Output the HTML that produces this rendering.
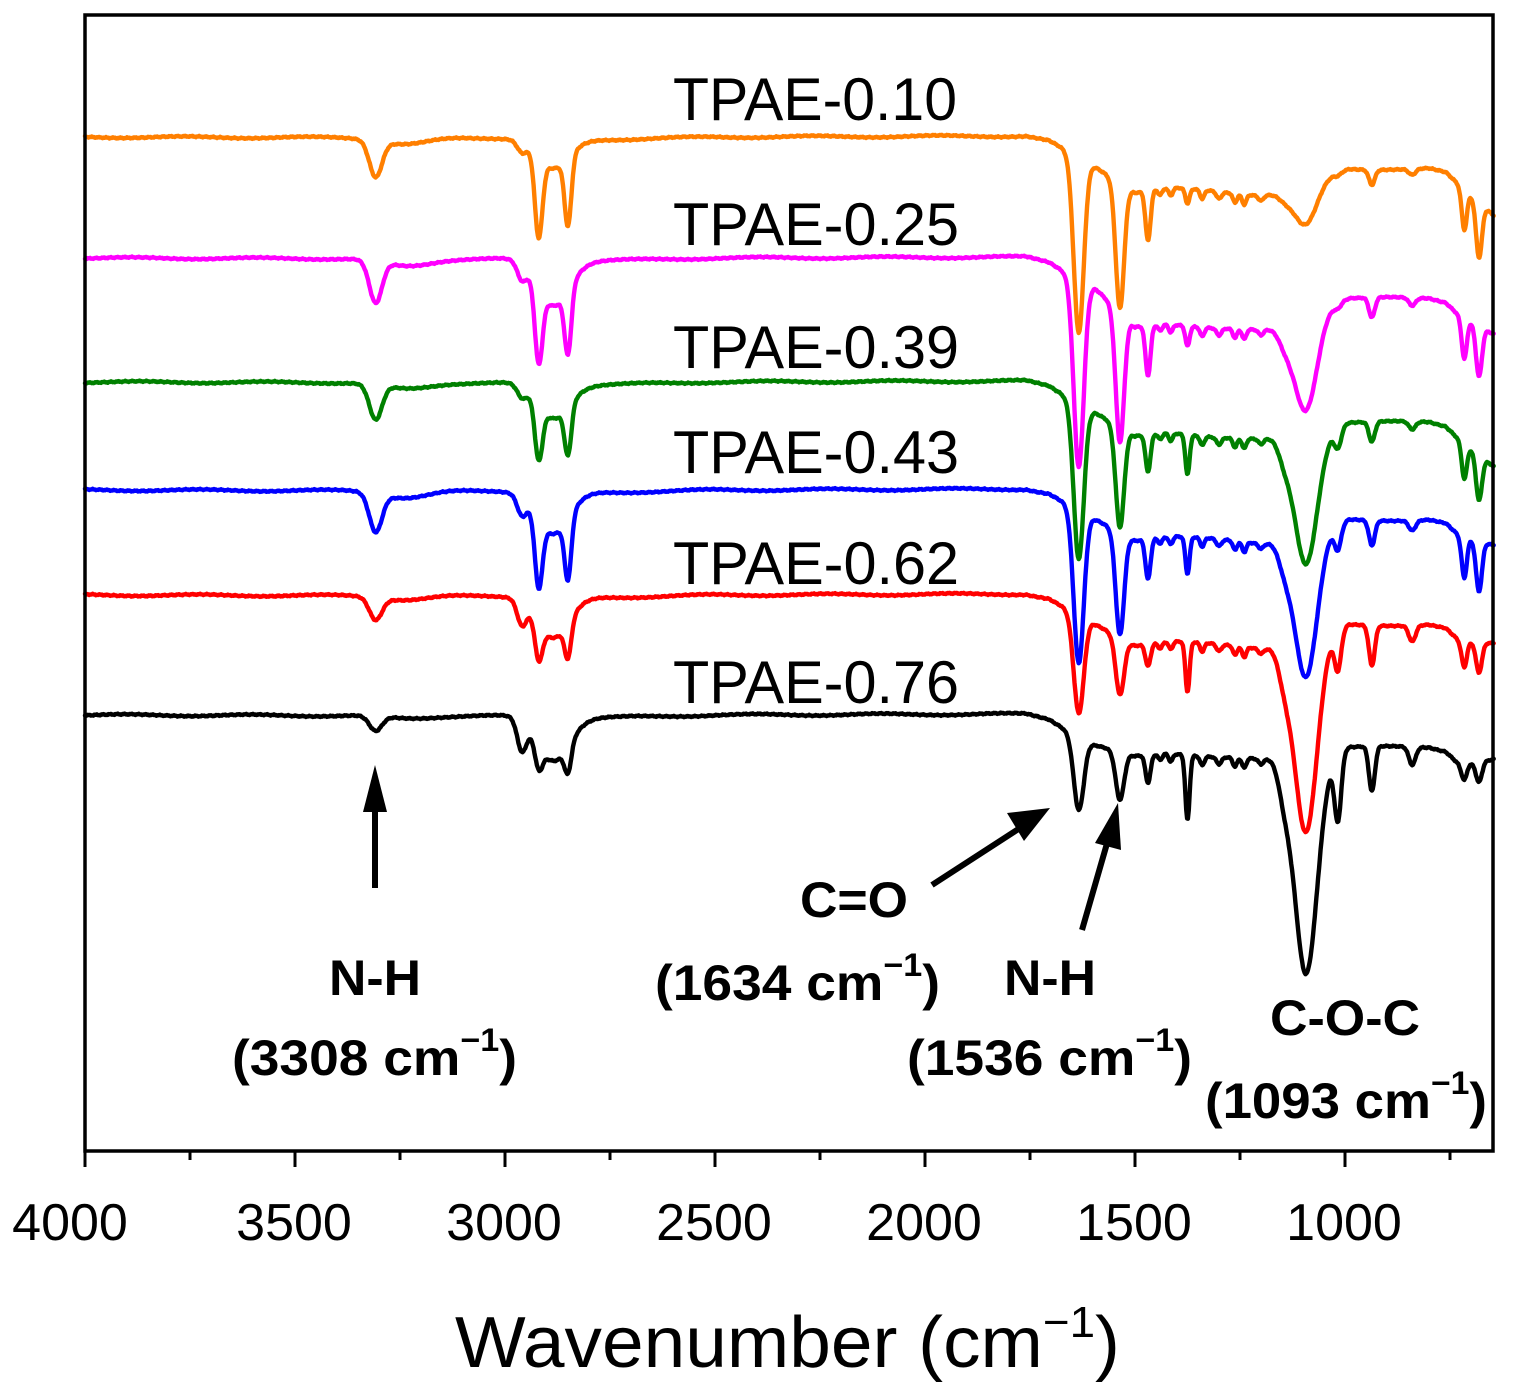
<!DOCTYPE html>
<html><head><meta charset="utf-8"><style>
html,body{margin:0;padding:0;background:#fff;}
svg{display:block;}
text{font-family:"Liberation Sans",Arial,sans-serif;fill:#000;}
</style></head><body>
<svg id="s" width="1519" height="1397" viewBox="0 0 1519 1397" xmlns="http://www.w3.org/2000/svg">
<rect x="0" y="0" width="1519" height="1397" fill="#fff"/>
<g id="curves" fill="none" stroke-width="4.4" stroke-linejoin="round" stroke-linecap="round"></g>
<rect x="85" y="15" width="1408" height="1136" fill="none" stroke="#000" stroke-width="3.5"/>
<g id="ticks" stroke="#000" stroke-width="3"></g>
<g font-size="60">
<text x="673" y="120" textLength="284" lengthAdjust="spacingAndGlyphs">TPAE-0.10</text>
<text x="673" y="245" textLength="286" lengthAdjust="spacingAndGlyphs">TPAE-0.25</text>
<text x="673" y="368" textLength="286" lengthAdjust="spacingAndGlyphs">TPAE-0.39</text>
<text x="673" y="473" textLength="286" lengthAdjust="spacingAndGlyphs">TPAE-0.43</text>
<text x="673" y="584" textLength="286" lengthAdjust="spacingAndGlyphs">TPAE-0.62</text>
<text x="673" y="703" textLength="286" lengthAdjust="spacingAndGlyphs">TPAE-0.76</text>
</g>
<g font-size="52" text-anchor="middle">
<text x="70" y="1240">4000</text>
<text x="294" y="1240">3500</text>
<text x="504" y="1240">3000</text>
<text x="714" y="1240">2500</text>
<text x="924" y="1240">2000</text>
<text x="1134" y="1240">1500</text>
<text x="1344" y="1240">1000</text>
</g>
<text x="455" y="1367" font-size="72" textLength="665" lengthAdjust="spacingAndGlyphs">Wavenumber (cm<tspan font-size="44" dy="-30">−1</tspan><tspan dy="30">)</tspan></text>
<g font-size="50" font-weight="bold">
<text x="329" y="995" textLength="92" lengthAdjust="spacingAndGlyphs">N-H</text>
<text x="232" y="1075" textLength="285" lengthAdjust="spacingAndGlyphs">(3308 cm<tspan font-size="32" dy="-24">−1</tspan><tspan dy="24">)</tspan></text>
<text x="800" y="917" textLength="108" lengthAdjust="spacingAndGlyphs">C=O</text>
<text x="655" y="1000" textLength="285" lengthAdjust="spacingAndGlyphs">(1634 cm<tspan font-size="32" dy="-24">−1</tspan><tspan dy="24">)</tspan></text>
<text x="1004" y="995" textLength="92" lengthAdjust="spacingAndGlyphs">N-H</text>
<text x="907" y="1075" textLength="285" lengthAdjust="spacingAndGlyphs">(1536 cm<tspan font-size="32" dy="-24">−1</tspan><tspan dy="24">)</tspan></text>
<text x="1270" y="1035" textLength="150" lengthAdjust="spacingAndGlyphs">C-O-C</text>
<text x="1205" y="1118" textLength="282" lengthAdjust="spacingAndGlyphs">(1093 cm<tspan font-size="32" dy="-24">−1</tspan><tspan dy="24">)</tspan></text>
</g>
<g stroke="#000" stroke-width="6" fill="#000">
<line x1="375" y1="888" x2="375" y2="800"/>
<polygon points="375,765 363,812 387,812" stroke="none"/>
<line x1="932" y1="885" x2="1020" y2="828"/>
<polygon points="1050,808 1007,813 1024,841" stroke="none"/>
<line x1="1082" y1="930" x2="1108" y2="840"/>
<polygon points="1118,803 1095,843 1121,850" stroke="none"/>
</g>
</svg>
<script>
(function(){
var NS="http://www.w3.org/2000/svg";
function X(w){return 85+(4000-w)*0.42;}
function interp(pts,w){
 for(var i=0;i<pts.length-1;i++){var a=pts[i],b=pts[i+1];
  if(w<=a[0]&&w>=b[0]){var t=(a[0]-w)/(a[0]-b[0]);return a[1]+t*(b[1]-a[1]);}}
 return pts[pts.length-1][1];
}
function S(o){
 var k1=o.k1,k2=o.k2,k3=o.k3;
 var bl=[[4000,0],[3000,1],[2800,3],[2500,0],[1760,-1],[1705,4],[1665,14],[1595,k1],[1500,k2],[1420,k2-4],[1200,k2+3],[1130,k2],[1050,k3+8],[990,k3],[800,k3],[760,k3+4],[725,k3+18],[645,o.ke]];
 var d=[
  [3308,o.nh,15],[3235,o.nh*0.18,55],
  [2960,o.a,11],[2920,o.b,9],[2850,o.c,8],[2885,o.m,38],
  [1634,o.co,12],[1536,o.am,10],[1469,o.h1,6],[1375,o.h2,5],
  [1440,6,5],[1415,8,5],[1340,9,5],[1300,7,6],[1262,9,5],[1240,10,5],[1200,5,6],
  [1093,o.coc,27],[1145,o.coc*0.12,14],[1017,o.d1,8],[936,o.d2,7],[840,o.d2*0.4,8],
  [716,o.e1,6],[681,o.e2,7]
 ];
 var p="",seed=o.base*7.3;
 for(var w=4000;w>=645;w-=2){
  var y=o.base+interp(bl,w);
  for(var i=0;i<d.length;i++){var q=d[i],z=(w-q[0])/q[2];if(z*z<40)y+=q[1]*Math.exp(-0.5*z*z);}
  y+=0.4*Math.sin(w*0.37+seed)+0.3*Math.sin(w*1.13+seed*2)+0.9*Math.sin(w*0.021+seed);
  p+=(p?"L":"M")+X(w).toFixed(1)+","+y.toFixed(1);
 }
 var el=document.createElementNS(NS,"path");el.setAttribute("d",p);el.setAttribute("stroke",o.col);
 document.getElementById("curves").appendChild(el);
}
var series=[
 {col:"#000000",base:715,nh:15,a:30,b:25,c:27,m:43,co:73,am:48,h1:28,h2:65,coc:217,d1:67,d2:45,e1:15,e2:20,k1:30,k2:42,k3:32,ke:45},
 {col:"#ff0000",base:595,nh:22,a:23,b:37,c:35,m:41,co:98,am:57,h1:22,h2:50,coc:193,d1:40,d2:40,e1:25,e2:30,k1:30,k2:50,k3:30,ke:48},
 {col:"#0000ff",base:490,nh:38,a:18,b:69,c:61,m:42,co:153,am:102,h1:40,h2:37,coc:143,d1:25,d2:25,e1:40,e2:50,k1:30,k2:50,k3:30,ke:55},
 {col:"#008000",base:382,nh:35,a:11,b:55,c:48,m:34,co:155,am:100,h1:37,h2:40,coc:130,d1:20,d2:20,e1:35,e2:45,k1:30,k2:55,k3:40,ke:85},
 {col:"#ff00ff",base:258,nh:42,a:16,b:75,c:64,m:45,co:187,am:130,h1:50,h2:20,coc:92,d1:5,d2:20,e1:40,e2:50,k1:30,k2:70,k3:40,ke:77},
 {col:"#ff7f00",base:137,nh:36,a:10,b:80,c:68,m:30,co:175,am:125,h1:50,h2:15,coc:40,d1:3,d2:15,e1:40,e2:55,k1:30,k2:55,k3:32,ke:78}
];
series.forEach(S);
var t="";
for(var w=4000;w>=650;w-=250){var x=X(w).toFixed(1),L=(w%500==0)?16:9;t+='<line x1="'+x+'" y1="1151" x2="'+x+'" y2="'+(1151+L)+'"/>';}
document.getElementById("ticks").innerHTML=t;
})();
</script>
</body></html>
